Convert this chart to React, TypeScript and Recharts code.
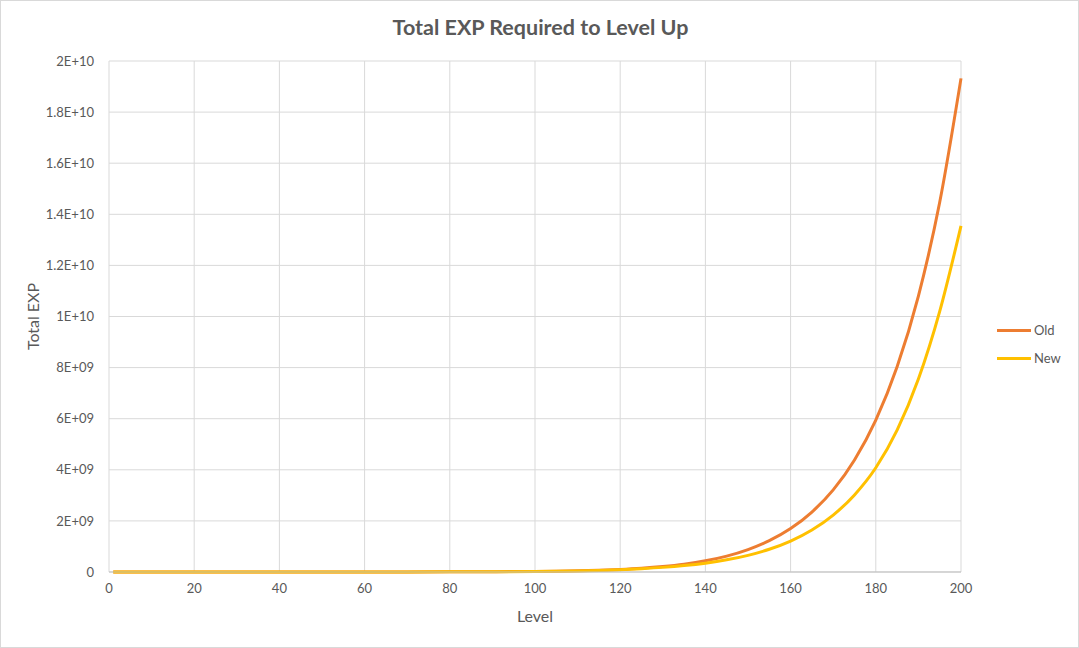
import React from "react";
import {
  LineChart,
  Line,
  XAxis,
  YAxis,
  CartesianGrid,
  Legend,
} from "recharts";

const LEVELS = [
  1, 10, 20, 30, 40, 50, 60, 70, 80, 90, 100, 105, 110, 115, 120, 125, 130,
  135, 140, 145, 150, 155, 160, 165, 170, 175, 180, 185, 190, 195, 200,
];

const OLD_EXP = [
  0, 5e3, 3e4, 1e5, 3e5, 7e5, 1.5e6, 3e6, 5.5e6, 1.1e7, 2.25e7, 3.3e7, 4.8e7,
  6.9e7, 1.01e8, 1.47e8, 2.13e8, 3.06e8, 4.38e8, 6.22e8, 8.77e8, 1.227e9,
  1.7e9, 2.346e9, 3.214e9, 4.387e9, 5.945e9, 8.03e9, 1.08e10, 1.447e10,
  1.932e10,
];

const NEW_EXP = [
  0, 4e3, 2.5e4, 8e4, 2.5e5, 6e5, 1.3e6, 2.6e6, 5e6, 1e7, 2.1e7, 3e7, 4.4e7,
  6.3e7, 9e7, 1.3e8, 1.81e8, 2.51e8, 3.46e8, 4.76e8, 6.52e8, 8.9e8, 1.21e9,
  1.643e9, 2.228e9, 3.017e9, 4.079e9, 5.55e9, 7.55e9, 1.02e10, 1.355e10,
];

const LEVEL_TICKS = [0, 20, 40, 60, 80, 100, 120, 140, 160, 180, 200];
const EXP_TICKS = [
  0, 2e9, 4e9, 6e9, 8e9, 1e10, 1.2e10, 1.4e10, 1.6e10, 1.8e10, 2e10,
];

const SERIES = [
  { key: "old", name: "Old", color: "#ED7D31" },
  { key: "new", name: "New", color: "#FFC000" },
];

const FONT = "Lato, 'Open Sans', sans-serif";
const TEXT = "#595959";
const GRID = "#d9d9d9";

const data = LEVELS.map((lvl, i) => ({
  level: lvl,
  old: OLD_EXP[i],
  new: NEW_EXP[i],
}));

// excel style scientific: 2E+09, 1.8E+10
function sci(v: number) {
  if (v === 0) return "0";
  const [m, e] = v.toExponential().split("e");
  const n = Math.abs(parseInt(e, 10));
  const sign = parseInt(e, 10) < 0 ? "-" : "+";
  return `${m}E${sign}${n < 10 ? "0" + n : n}`;
}

// legend keeps the series order (Old, New)
const LegendBox = () => (
  <div style={{ fontFamily: FONT, fontSize: 13, color: TEXT }}>
    {SERIES.map((s) => (
      <div
        key={s.key}
        style={{ display: "flex", alignItems: "center", height: 28 }}
      >
        <span
          style={{
            display: "inline-block",
            width: 34,
            height: 3,
            background: s.color,
            marginRight: 3,
          }}
        />
        <span>{s.name}</span>
      </div>
    ))}
  </div>
);

// eslint-disable-next-line @typescript-eslint/no-explicit-any
const YLabel = (props: any) => {
  const vb = props.viewBox || {};
  const x = vb.x + 32;
  const y = vb.y + vb.height / 2;
  return (
    <text
      x={x}
      y={y}
      transform={`rotate(-90 ${x} ${y})`}
      textAnchor="middle"
      dominantBaseline="central"
      fill={TEXT}
      fontFamily={FONT}
      fontSize={16}
    >
      Total EXP
    </text>
  );
};

export default function App() {
  return (
    <div
      style={{
        position: "relative",
        width: 1079,
        height: 648,
        boxSizing: "border-box",
        border: `1px solid ${GRID}`,
        background: "#fff",
        overflow: "hidden",
      }}
    >
      <style>{`body{margin:0}`}</style>
      <div
        style={{
          position: "absolute",
          top: 11,
          left: 0,
          width: 1079,
          textAlign: "center",
          fontFamily: FONT,
          fontWeight: 700,
          fontSize: 21.5,
          lineHeight: "30px",
          color: TEXT,
        }}
      >
        Total EXP Required to Level Up
      </div>
      <div style={{ position: "absolute", left: -1, top: -1 }}>
        <LineChart
          width={1079}
          height={648}
          data={data}
          margin={{ top: 61, right: 118, bottom: 0, left: 0 }}
        >
          <CartesianGrid stroke={GRID} strokeWidth={1} />
          <XAxis
            dataKey="level"
            type="number"
            domain={[0, 200]}
            ticks={LEVEL_TICKS}
            height={76}
            axisLine={{ stroke: "#bfbfbf" }}
            tickLine={false}
            tickMargin={6}
            tick={{ fill: TEXT, fontFamily: FONT, fontSize: 13 }}
            label={{
              value: "Level",
              position: "insideBottom",
              offset: 26,
              fill: TEXT,
              fontFamily: FONT,
              fontSize: 16,
            }}
          />
          <YAxis
            type="number"
            domain={[0, 2e10]}
            ticks={EXP_TICKS}
            width={109}
            axisLine={false}
            tickLine={false}
            tickMargin={9}
            tickFormatter={sci}
            tick={{ fill: TEXT, fontFamily: FONT, fontSize: 13 }}
            label={<YLabel />}
          />
          <Legend
            layout="vertical"
            align="center"
            verticalAlign="middle"
            wrapperStyle={{ left: 997, top: 316, width: 80 }}
            content={<LegendBox />}
          />
          {SERIES.map((s) => (
            <Line
              key={s.key}
              dataKey={s.key}
              name={s.name}
              type="monotone"
              stroke={s.color}
              strokeWidth={3}
              dot={false}
              activeDot={false}
              isAnimationActive={false}
            />
          ))}
        </LineChart>
      </div>
    </div>
  );
}
